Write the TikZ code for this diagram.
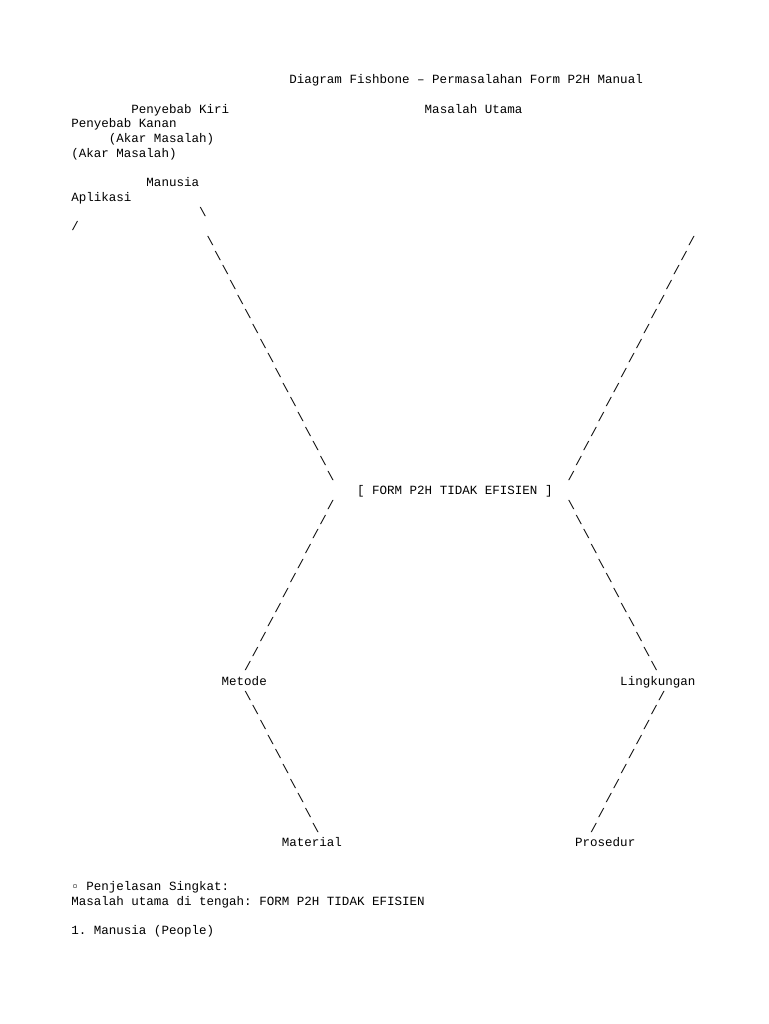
\documentclass[tikz,border=0pt]{standalone}
\usepackage{fontspec}
\setmonofont{Liberation Mono}
\usepackage{tikz}

\tikzset{
  txt/.style={anchor=base west, inner sep=0pt, font=\ttfamily\fontsize{9.4}{11}\selectfont},
}

\begin{document}
\begin{tikzpicture}[x=5.64pt, y=-11pt]
\useasboundingbox (-53.25pt,63pt) rectangle (522.75pt,-705pt);
% header
\node[txt] (judul) at (29,0) {Diagram Fishbone – Permasalahan Form P2H Manual};
\node[txt] (kiri) at (8,2) {Penyebab Kiri};
\node[txt] (utama) at (47,2) {Masalah Utama};
\node[txt] (kanan) at (0,3) {Penyebab Kanan};
\node[txt] (akar1) at (5,4) {(Akar Masalah)};
\node[txt] (akar2) at (0,5) {(Akar Masalah)};
% upper bones
\node[txt] (manusia) at (10,7) {Manusia};
\node[txt] (aplikasi) at (0,8) {Aplikasi};
\node[txt] (s0) at (17,9) {\textbackslash};
\node[txt] (s1) at (0,10) {/};
\foreach \l in {11,...,27} {
  \node[txt] (a\l) at (\l+7,\l) {\textbackslash};
  \node[txt] (b\l) at (93-\l,\l) {/};
}
% head
\node[txt] (masalah) at (38,28) {[ FORM P2H TIDAK EFISIEN ]};
% lower bones
\foreach \l in {29,...,40} {
  \node[txt] (c\l) at (63-\l,\l) {/};
  \node[txt] (d\l) at (\l+37,\l) {\textbackslash};
}
\node[txt] (metode) at (20,41) {Metode};
\node[txt] (lingkungan) at (73,41) {Lingkungan};
\foreach \l in {42,...,51} {
  \node[txt] (e\l) at (\l-19,\l) {\textbackslash};
  \node[txt] (f\l) at (120-\l,\l) {/};
}
\node[txt] (material) at (28,52) {Material};
\node[txt] (prosedur) at (67,52) {Prosedur};
% notes
\node[txt] (catatan) at (0,55) {▫ Penjelasan Singkat:};
\node[txt] (ringkas) at (0,56) {Masalah utama di tengah: FORM P2H TIDAK EFISIEN};
\node[txt] (poin1) at (0,58) {1. Manusia (People)};
\end{tikzpicture}
\end{document}
